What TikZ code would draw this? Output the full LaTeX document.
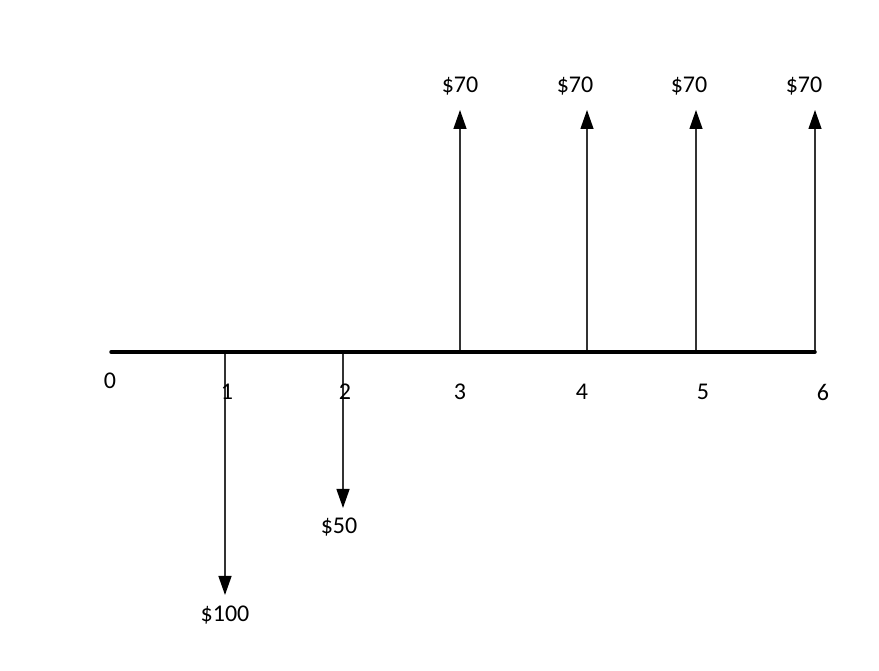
\documentclass[tikz,border=0pt]{standalone}
\usepackage{fontspec}
\setmainfont{Carlito}
\usetikzlibrary{arrows.meta}
\begin{document}
\begin{tikzpicture}[x=1pt,y=1pt]
\tikzstyle{every node}+=[inner sep=0pt,font=\fontsize{24}{28}\selectfont]
\tikzstyle{flow}=[draw=black!80,line width=1.3pt,-{Triangle[length=19pt,width=13pt,color=black]}]
\useasboundingbox (0,0) rectangle (879,670);
\coordinate (t0) at (111,318);
\coordinate (t1) at (225,318);
\coordinate (t2) at (343,318);
\coordinate (t3) at (460,318);
\coordinate (t4) at (587,318);
\coordinate (t5) at (696,318);
\coordinate (t6) at (815,318);
\coordinate (d1) at (225,75);
\coordinate (d2) at (343,162);
\coordinate (u3) at (460,560);
\coordinate (u4) at (587,560);
\coordinate (u5) at (696,560);
\coordinate (u6) at (815,560);
\draw [flow] (t1) -- (d1);
\draw [flow] (t2) -- (d2);
\draw [flow] (t3) -- (u3);
\draw [flow] (t4) -- (u4);
\draw [flow] (t5) -- (u5);
\draw [flow] (t6) -- (u6);
\draw [black,line width=3.5pt,line cap=round] (t0) -- (t6);
\node (n0) at (110,289) {0};
\node (n1) at (227,278) {1};
\node (n2) at (345,278) {2};
\node (n3) at (460,278) {3};
\node (n4) at (582,278) {4};
\node (n5) at (703,278) {5};
\node (n6) at (823,278) {6};
\node (c1) at (225,55) {\$100};
\node (c2) at (339,143) {\$50};
\node (c3) at (460,584) {\$70};
\node (c4) at (575,584) {\$70};
\node (c5) at (689,584) {\$70};
\node (c6) at (804,584) {\$70};
\end{tikzpicture}
\end{document}
